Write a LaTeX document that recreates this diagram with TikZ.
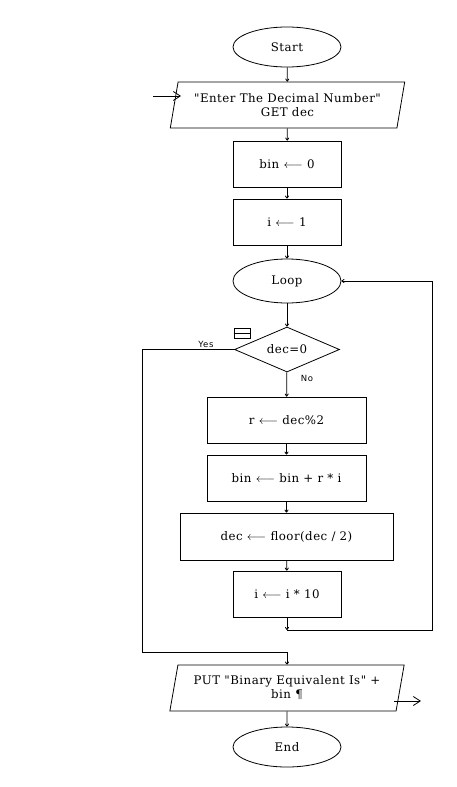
\documentclass[tikz,border=0pt]{standalone}
\usepackage{fontspec}
\setmainfont{DejaVu Serif}[LetterSpace=4,Ligatures=TeXOff]
\newfontfamily\lblfont{DejaVu Sans}[LetterSpace=8]
\usetikzlibrary{shapes.geometric,arrows.meta}
\begin{document}
\begin{tikzpicture}[x=1pt,y=-1pt,
  every node/.style={font=\fontsize{11.8}{14}\selectfont},
  term/.style={draw,ellipse,minimum width=108pt,minimum height=40pt,inner sep=0pt},
  proc/.style={draw,rectangle,minimum height=46pt,inner sep=0pt},
  io/.style={draw,trapezium,trapezium left angle=74,trapezium right angle=106,trapezium stretches=true,minimum width=235pt,minimum height=46pt,inner sep=0pt,align=center},
  dec/.style={draw,diamond,minimum width=105pt,minimum height=45pt,aspect=2.33,inner sep=0pt},
  arr/.style={-{To[length=3pt,width=4pt]}},
  openarr/.style={-{Straight Barb[length=7pt,width=9pt]}},
  lbl/.style={font=\lblfont\fontsize{8.5}{10}\selectfont,inner sep=0pt},
  line width=0.8pt]
\useasboundingbox (0,0) rectangle (457,787);
\node[term] (start) at (287,47) {Start};
\node[io] (inp) at (287.5,105) {"Enter The Decimal Number"\\GET dec};
\node[proc,minimum width=108pt] (bin0) at (287,164) {bin $\longleftarrow$ 0};
\node[proc,minimum width=108pt] (i1) at (287,222) {i $\longleftarrow$ 1};
\node[term,minimum height=44pt] (loop) at (287,281) {Loop};
\node[dec] (dia) at (287,349.5) {dec=0};
\node[proc,minimum width=159pt] (r) at (286.5,420) {r $\longleftarrow$ dec\%2};
\node[proc,minimum width=159pt] (bin) at (286.5,478) {bin $\longleftarrow$ bin + r * i};
\node[proc,minimum width=213pt,minimum height=47pt] (decb) at (286.5,536.5) {dec $\longleftarrow$ floor(dec / 2)};
\node[proc,minimum width=108pt] (ib) at (287,594) {i $\longleftarrow$ i * 10};
\node[io] (put) at (287,688) {PUT "Binary Equivalent Is" +\\bin ¶};
\node[term] (end) at (287,747) {End};
\node[lbl] (yes) at (206,344) {Yes};
\node[lbl] (no) at (307,378) {No};
\node[draw,rectangle,minimum width=16pt,minimum height=10pt,inner sep=0pt,line width=0.8pt] (icon) at (242,333) {};
\draw[line width=0.8pt] (icon.west) -- (icon.east);
\coordinate (inA) at (153,96);
\coordinate (inB) at (181,96);
\coordinate (outA) at (394,701);
\coordinate (outB) at (421,701);
\coordinate (j) at (287,630);
\coordinate (jr) at (432,630);
\coordinate (yl) at (142,652);
\coordinate (yr) at (287,652);
\draw[openarr] (inA) -- (inB);
\draw[openarr] (outA) -- (outB);
\draw[arr] (start) -- (inp);
\draw[arr] (inp) -- (bin0);
\draw[arr] (bin0) -- (i1);
\draw[arr] (i1) -- (loop);
\draw[arr] (loop) -- (dia);
\draw[arr] (dia) -- (r);
\draw[arr] (r) -- (bin);
\draw[arr] (bin) -- (decb);
\draw[arr] (decb) -- (ib);
\draw[arr] (ib) -- (j);
\draw[arr] (j) -- (jr) |- (loop.east);
\draw (dia.west) -| (yl) -- (yr);
\draw[arr] (yr) -- (put);
\draw[arr] (put) -- (end);
\end{tikzpicture}
\end{document}
